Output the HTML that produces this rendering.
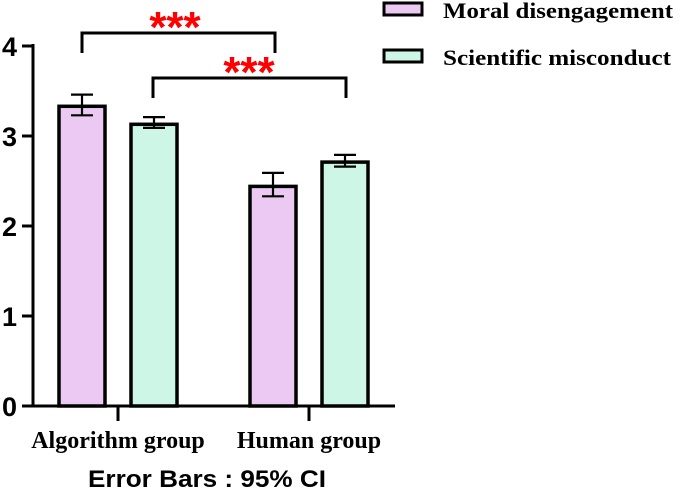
<!DOCTYPE html>
<html><head><meta charset="utf-8"><style>
html,body{margin:0;padding:0;background:#fff;}
svg{display:block;}
</style></head><body>
<svg id="chart" width="685" height="489" viewBox="0 0 685 489" xmlns="http://www.w3.org/2000/svg">
<g id="marks"></g>
</svg>
<script>
const groups = ["Algorithm group", "Human group"];
const seriesNames = ["Moral disengagement", "Scientific misconduct"];
const moralMeans = [3.33, 2.44];
const moralLow = [3.23, 2.33];
const moralHigh = [3.46, 2.59];
const sciMeans = [3.13, 2.71];
const sciLow = [3.09, 2.66];
const sciHigh = [3.21, 2.79];
const yTicks = [0, 1, 2, 3, 4];

const NS = "http://www.w3.org/2000/svg";
const svg = document.getElementById("marks");
const y = v => 406 - v * 90;
const groupCenter = i => 118 + i * 191;
const barW = 46;
const fills = ["#ecc9f3", "#cdf6e6"];
function mk(tag, attrs, parent) {
  const e = document.createElementNS(NS, tag);
  for (const k in attrs) e.setAttribute(k, attrs[k]);
  (parent || svg).appendChild(e);
  return e;
}
const sw = {stroke: "#000", "stroke-width": 3, fill: "none"};

let e = mk("line", Object.assign({x1: 33, y1: 44, x2: 33, y2: 407}, sw));


e = mk("line", Object.assign({x1: 32, y1: 406, x2: 395, y2: 406}, sw));



yTicks.forEach(t => {
  const tk = mk("line", Object.assign({x1: 22, y1: y(t), x2: 33, y2: y(t)}, sw));
  
  
  const tx = mk("text", {x: 17, y: y(t) + 10, "text-anchor": "end", "font-family": "Liberation Sans, sans-serif", "font-weight": "bold", "font-size": 27, fill: "#000"});
  tx.textContent = t;
  
  
});

groups.forEach((g, i) => {
  const c = groupCenter(i);
  const tk = mk("line", Object.assign({x1: c, y1: 406, x2: c, y2: 421}, sw));
  
  
  const tx = mk("text", {x: c, y: 448, "text-anchor": "middle", "font-family": "Liberation Serif, serif", "font-weight": "bold", "font-size": 24, fill: "#000"});
  tx.textContent = g;
  
  

  const data = [[moralMeans, moralLow, moralHigh], [sciMeans, sciLow, sciHigh]];
  data.forEach((s, k) => {
    const cx = c - 36 + k * 72;
    const r = mk("rect", {x: cx - barW / 2, y: y(s[0][i]), width: barW, height: 406 - y(s[0][i]), fill: fills[k], stroke: "#000", "stroke-width": 3.5});
    
    
    const eb = mk("path", {d: `M${cx},${y(s[1][i])}V${y(s[2][i])}M${cx - 11},${y(s[2][i])}H${cx + 11}M${cx - 11},${y(s[1][i])}H${cx + 11}`, stroke: "#000", "stroke-width": 2.2, fill: "none"});
    
    
  });
});

[[82, 275, 33, 175], [153, 346, 78, 249]].forEach(b => {
  const p = mk("path", {d: `M${b[0]},${b[2] + 20}V${b[2]}H${b[1]}V${b[2] + 20}`, stroke: "#000", "stroke-width": 3, fill: "none"});
  
  
  const t = mk("text", {x: b[3], y: b[2] + 9, "text-anchor": "middle", "font-family": "Liberation Sans, sans-serif", "font-weight": "bold", "font-size": 44, fill: "#ff0000"});
  t.textContent = "***";
  
  
});

seriesNames.forEach((n, k) => {
  const yy = 3 + k * 47;
  const r = mk("rect", {x: 384, y: yy, width: 38, height: 12, fill: fills[k], stroke: "#000", "stroke-width": 3});
  
  
  const t = mk("text", {x: 443, y: yy + 15, "font-family": "Liberation Serif, serif", "font-weight": "bold", "font-size": 22, fill: "#000", textLength: k === 0 ? 230 : 228, lengthAdjust: "spacingAndGlyphs"});
  t.textContent = n;
  
  
});

const cap = mk("text", {x: 207, y: 487, "text-anchor": "middle", "font-family": "Liberation Sans, sans-serif", "font-weight": "bold", "font-size": 24, fill: "#000", textLength: 238, lengthAdjust: "spacingAndGlyphs"});
cap.textContent = "Error Bars : 95% CI";


</script>
</body></html>
